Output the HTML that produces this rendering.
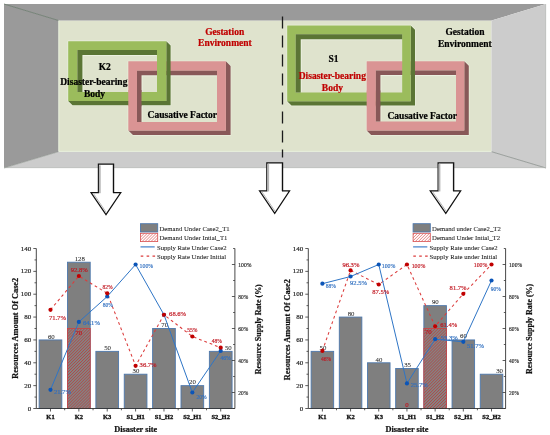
<!DOCTYPE html>
<html><head><meta charset="utf-8"><title>Disaster system figure</title>
<style>html,body{margin:0;padding:0;background:#fff;} svg{display:block;}</style></head>
<body><svg width="550" height="435" viewBox="0 0 550 435">
<defs><clipPath id="cl1"><rect x="127.80000000000001" y="90.0" width="15.099999999999966" height="16.299999999999997"/></clipPath><clipPath id="cl2"><rect x="366.1" y="90.6" width="15.499999999999943" height="15.900000000000006"/></clipPath><pattern id="hatch" patternUnits="userSpaceOnUse" width="2.1" height="2.1" patternTransform="rotate(45)"><rect width="2.1" height="2.1" fill="#848484"/><rect width="0.75" height="2.1" fill="#b04848"/></pattern><pattern id="hatchL" patternUnits="userSpaceOnUse" width="2.1" height="2.1" patternTransform="rotate(45)"><rect width="2.1" height="2.1" fill="#ffffff"/><rect width="0.6" height="2.1" fill="#e06a6a"/></pattern></defs>
<rect width="550" height="435" fill="#ffffff"/>
<rect x="58.5" y="20.5" width="433.0" height="131.2" fill="#dfe3cd"/>
<polygon points="4,4 546,4 491.5,20.5 58.5,20.5" fill="#9a9a9a"/>
<polygon points="4,4 58.5,20.5 58.5,151.7 4,168" fill="#9a9a9a"/>
<polygon points="546,4 546,168 491.5,151.7 491.5,20.5" fill="#cccccc"/>
<polygon points="4,168 58.5,151.7 491.5,151.7 546,168" fill="#cccccc"/>
<line x1="4" y1="4" x2="58.5" y2="20.5" stroke="#6e7d70" stroke-width="0.9"/>
<line x1="546" y1="168" x2="491.5" y2="151.7" stroke="#858c88" stroke-width="0.75"/>
<path d="M545.7,4V167.7H4" fill="none" stroke="#b8bcb8" stroke-width="0.6"/>
<line x1="4" y1="168" x2="58.5" y2="151.7" stroke="#8f958f" stroke-width="0.6"/>
<path d="M58.9,20.5V151.29999999999998H491.5" fill="none" stroke="#eaf2dc" stroke-width="0.8"/>
<polygon points="68.2,41.2 166.3,41.2 170.60000000000002,45.5 170.60000000000002,105.3 72.5,105.3 68.2,101.0" fill="none" stroke="#eaf0de" stroke-width="1.3" stroke-linejoin="round"/>
<path d="M82.9,91.7V55.4H156.7" fill="none" stroke="#eef4e4" stroke-width="0.9"/>
<polygon points="128.3,61.3 225.9,61.3 230.6,66.0 230.6,135.1 133.0,135.1 128.3,130.4" fill="none" stroke="#eaf0de" stroke-width="1.3" stroke-linejoin="round"/>
<path d="M142.0,121.7V75.8H216.7" fill="none" stroke="#eef4e4" stroke-width="0.9"/>
<polygon points="287.2,25.5 410.7,25.5 415.0,29.8 415.0,105.5 291.5,105.5 287.2,101.2" fill="none" stroke="#eaf0de" stroke-width="1.3" stroke-linejoin="round"/>
<path d="M301.2,92.3V39.7H401.9" fill="none" stroke="#eef4e4" stroke-width="0.9"/>
<polygon points="366.6,61.3 464.3,61.3 468.8,65.8 468.8,135.1 371.1,135.1 366.6,130.6" fill="none" stroke="#eaf0de" stroke-width="1.3" stroke-linejoin="round"/>
<path d="M380.9,121.10000000000001V75.6H455.7" fill="none" stroke="#eef4e4" stroke-width="0.9"/>
<polygon points="225.9,61.3 230.6,66.0 230.6,135.1 133.0,135.1 128.3,130.4 225.9,130.4" fill="#885858"/><path d="M128.3,61.3H225.9V130.4H128.3Z M137.0,70.8V122.0H217.0V70.8Z" fill="#da9494" fill-rule="evenodd"/><polygon points="137.0,70.8 217.0,70.8 217.0,75.3 141.5,75.3 141.5,122.0 137.0,122.0" fill="#885858"/>
<polygon points="166.3,41.2 170.60000000000002,45.5 170.60000000000002,105.3 72.5,105.3 68.2,101.0 166.3,101.0" fill="#5b7535"/><path d="M68.2,41.2H166.3V101.0H68.2Z M77.4,49.9V92.0H157.0V49.9Z" fill="#9bbc5c" fill-rule="evenodd"/><polygon points="77.4,49.9 157.0,49.9 157.0,54.9 82.4,54.9 82.4,92.0 77.4,92.0" fill="#5b7535"/>
<g clip-path="url(#cl1)"><polygon points="225.9,61.3 230.6,66.0 230.6,135.1 133.0,135.1 128.3,130.4 225.9,130.4" fill="#885858"/><path d="M128.3,61.3H225.9V130.4H128.3Z M137.0,70.8V122.0H217.0V70.8Z" fill="#da9494" fill-rule="evenodd"/><polygon points="137.0,70.8 217.0,70.8 217.0,75.3 141.5,75.3 141.5,122.0 137.0,122.0" fill="#885858"/></g>
<polygon points="464.3,61.3 468.8,65.8 468.8,135.1 371.1,135.1 366.6,130.6 464.3,130.6" fill="#885858"/><path d="M366.6,61.3H464.3V130.6H366.6Z M375.9,70.6V121.4H456.0V70.6Z" fill="#da9494" fill-rule="evenodd"/><polygon points="375.9,70.6 456.0,70.6 456.0,75.1 380.4,75.1 380.4,121.4 375.9,121.4" fill="#885858"/>
<polygon points="410.7,25.5 415.0,29.8 415.0,105.5 291.5,105.5 287.2,101.2 410.7,101.2" fill="#5b7535"/><path d="M287.2,25.5H410.7V101.2H287.2Z M295.7,34.2V92.6H402.2V34.2Z" fill="#9bbc5c" fill-rule="evenodd"/><polygon points="295.7,34.2 402.2,34.2 402.2,39.2 300.7,39.2 300.7,92.6 295.7,92.6" fill="#5b7535"/>
<g clip-path="url(#cl2)"><polygon points="464.3,61.3 468.8,65.8 468.8,135.1 371.1,135.1 366.6,130.6 464.3,130.6" fill="#885858"/><path d="M366.6,61.3H464.3V130.6H366.6Z M375.9,70.6V121.4H456.0V70.6Z" fill="#da9494" fill-rule="evenodd"/><polygon points="375.9,70.6 456.0,70.6 456.0,75.1 380.4,75.1 380.4,121.4 375.9,121.4" fill="#885858"/></g>
<line x1="282.5" y1="16.4" x2="282.5" y2="157.5" stroke="#1a1a1a" stroke-width="1.3" stroke-dasharray="12.2 6.8"/>
<text x="104.7" y="67.1" font-family="'Liberation Serif','Times New Roman',serif" font-weight="bold" font-size="9.5" fill="#000" stroke="#000" stroke-width="0.22" text-anchor="middle" dominant-baseline="central">K2</text>
<text x="93.8" y="82.4" font-family="'Liberation Serif','Times New Roman',serif" font-weight="bold" font-size="9.5" fill="#000" stroke="#000" stroke-width="0.22" text-anchor="middle" dominant-baseline="central">Disaster-bearing</text>
<text x="94.5" y="93.9" font-family="'Liberation Serif','Times New Roman',serif" font-weight="bold" font-size="9.5" fill="#000" stroke="#000" stroke-width="0.22" text-anchor="middle" dominant-baseline="central">Body</text>
<text x="224.7" y="31.6" font-family="'Liberation Serif','Times New Roman',serif" font-weight="bold" font-size="9.5" fill="#c00000" stroke="#c00000" stroke-width="0.22" text-anchor="middle" dominant-baseline="central">Gestation</text>
<text x="224.9" y="43.4" font-family="'Liberation Serif','Times New Roman',serif" font-weight="bold" font-size="9.5" fill="#c00000" stroke="#c00000" stroke-width="0.22" text-anchor="middle" dominant-baseline="central">Environment</text>
<text x="182.3" y="115" font-family="'Liberation Serif','Times New Roman',serif" font-weight="bold" font-size="9.5" fill="#000" stroke="#000" stroke-width="0.22" text-anchor="middle" dominant-baseline="central">Causative Factor</text>
<text x="333.5" y="58.8" font-family="'Liberation Serif','Times New Roman',serif" font-weight="bold" font-size="9.5" fill="#000" stroke="#000" stroke-width="0.22" text-anchor="middle" dominant-baseline="central">S1</text>
<text x="332.3" y="76.3" font-family="'Liberation Serif','Times New Roman',serif" font-weight="bold" font-size="9.5" fill="#c00000" stroke="#c00000" stroke-width="0.22" text-anchor="middle" dominant-baseline="central">Disaster-bearing</text>
<text x="332.4" y="87.6" font-family="'Liberation Serif','Times New Roman',serif" font-weight="bold" font-size="9.5" fill="#c00000" stroke="#c00000" stroke-width="0.22" text-anchor="middle" dominant-baseline="central">Body</text>
<text x="465" y="31.6" font-family="'Liberation Serif','Times New Roman',serif" font-weight="bold" font-size="9.5" fill="#000" stroke="#000" stroke-width="0.22" text-anchor="middle" dominant-baseline="central">Gestation</text>
<text x="464.8" y="44.3" font-family="'Liberation Serif','Times New Roman',serif" font-weight="bold" font-size="9.5" fill="#000" stroke="#000" stroke-width="0.22" text-anchor="middle" dominant-baseline="central">Environment</text>
<text x="422.2" y="116" font-family="'Liberation Serif','Times New Roman',serif" font-weight="bold" font-size="9.5" fill="#000" stroke="#000" stroke-width="0.22" text-anchor="middle" dominant-baseline="central">Causative Factor</text>
<polygon points="98.4,164.1 113.6,164.1 113.6,192.6 120.8,192.6 106.0,214.7 91.0,192.6 98.4,192.6" fill="#ffffff" stroke="#111" stroke-width="1.2" stroke-linejoin="miter"/>
<path d="M99.80000000000001,165.29999999999998V193.2" stroke="#b5b5b5" stroke-width="1.8" fill="none"/>
<path d="M93.6,193.79999999999998L106.2,212.29999999999998" stroke="#9a9a9a" stroke-width="0.7" fill="none"/>
<path d="M113.3,164.6V192.9" stroke="#111" stroke-width="1.0" fill="none"/>
<polygon points="266.8,162.9 282.6,162.9 282.6,190.8 289.6,190.8 274.7,213.4 259.5,190.8 266.8,190.8" fill="#ffffff" stroke="#111" stroke-width="1.2" stroke-linejoin="miter"/>
<path d="M268.2,164.1V191.4" stroke="#b5b5b5" stroke-width="1.8" fill="none"/>
<path d="M262.1,192.0L274.9,211.0" stroke="#9a9a9a" stroke-width="0.7" fill="none"/>
<path d="M282.3,163.4V191.10000000000002" stroke="#111" stroke-width="1.0" fill="none"/>
<polygon points="438.1,162.9 453.7,162.9 453.7,190.8 460.7,190.8 445.8,213.4 430.2,190.8 438.1,190.8" fill="#ffffff" stroke="#111" stroke-width="1.2" stroke-linejoin="miter"/>
<path d="M439.5,164.1V191.4" stroke="#b5b5b5" stroke-width="1.8" fill="none"/>
<path d="M432.8,192.0L446.0,211.0" stroke="#9a9a9a" stroke-width="0.7" fill="none"/>
<path d="M453.4,163.4V191.10000000000002" stroke="#111" stroke-width="1.0" fill="none"/>
<rect x="39.14" y="339.93" width="22.70" height="68.57" fill="#7f7f7f" stroke="#4d78ad" stroke-width="0.9"/>
<rect x="67.51" y="262.21" width="22.70" height="146.29" fill="#7f7f7f" stroke="#4d78ad" stroke-width="0.9"/>
<rect x="95.88" y="351.36" width="22.70" height="57.14" fill="#7f7f7f" stroke="#4d78ad" stroke-width="0.9"/>
<rect x="124.25" y="374.21" width="22.70" height="34.29" fill="#7f7f7f" stroke="#4d78ad" stroke-width="0.9"/>
<rect x="152.62" y="328.50" width="22.70" height="80.00" fill="#7f7f7f" stroke="#4d78ad" stroke-width="0.9"/>
<rect x="180.99" y="385.64" width="22.70" height="22.86" fill="#7f7f7f" stroke="#4d78ad" stroke-width="0.9"/>
<rect x="209.37" y="351.36" width="22.70" height="57.14" fill="#7f7f7f" stroke="#4d78ad" stroke-width="0.9"/>
<rect x="67.51" y="328.50" width="22.70" height="80.00" fill="url(#hatch)" stroke="#d04040" stroke-width="0.8"/>
<path d="M36.3,248.5V408.5H234.9V248.5" fill="none" stroke="#333333" stroke-width="0.9"/>
<path d="M36.3,408.50h-3 M36.3,397.07h-1.8 M36.3,385.64h-3 M36.3,374.21h-1.8 M36.3,362.79h-3 M36.3,351.36h-1.8 M36.3,339.93h-3 M36.3,328.50h-1.8 M36.3,317.07h-3 M36.3,305.64h-1.8 M36.3,294.21h-3 M36.3,282.79h-1.8 M36.3,271.36h-3 M36.3,259.93h-1.8 M36.3,248.50h-3 M234.9,408.50h-1.8 M234.9,392.50h-3 M234.9,376.50h-1.8 M234.9,360.50h-3 M234.9,344.50h-1.8 M234.9,328.50h-3 M234.9,312.50h-1.8 M234.9,296.50h-3 M234.9,280.50h-1.8 M234.9,264.50h-3 M234.9,248.50h-1.8 M50.49,408.5v3 M78.86,408.5v3 M107.23,408.5v3 M135.60,408.5v3 M163.97,408.5v3 M192.34,408.5v3 M220.71,408.5v3 M64.67,408.5v1.8 M93.04,408.5v1.8 M121.41,408.5v1.8 M149.79,408.5v1.8 M178.16,408.5v1.8 M206.53,408.5v1.8" stroke="#333333" stroke-width="0.8" fill="none"/>
<text x="31.299999999999997" y="408.50" font-family="'Liberation Serif','Times New Roman',serif" font-size="7.0" text-anchor="end" dominant-baseline="central" fill="#222" stroke="#222" stroke-width="0.18">0</text>
<text x="31.299999999999997" y="385.64" font-family="'Liberation Serif','Times New Roman',serif" font-size="7.0" text-anchor="end" dominant-baseline="central" fill="#222" stroke="#222" stroke-width="0.18">20</text>
<text x="31.299999999999997" y="362.79" font-family="'Liberation Serif','Times New Roman',serif" font-size="7.0" text-anchor="end" dominant-baseline="central" fill="#222" stroke="#222" stroke-width="0.18">40</text>
<text x="31.299999999999997" y="339.93" font-family="'Liberation Serif','Times New Roman',serif" font-size="7.0" text-anchor="end" dominant-baseline="central" fill="#222" stroke="#222" stroke-width="0.18">60</text>
<text x="31.299999999999997" y="317.07" font-family="'Liberation Serif','Times New Roman',serif" font-size="7.0" text-anchor="end" dominant-baseline="central" fill="#222" stroke="#222" stroke-width="0.18">80</text>
<text x="31.299999999999997" y="294.21" font-family="'Liberation Serif','Times New Roman',serif" font-size="7.0" text-anchor="end" dominant-baseline="central" fill="#222" stroke="#222" stroke-width="0.18">100</text>
<text x="31.299999999999997" y="271.36" font-family="'Liberation Serif','Times New Roman',serif" font-size="7.0" text-anchor="end" dominant-baseline="central" fill="#222" stroke="#222" stroke-width="0.18">120</text>
<text x="31.299999999999997" y="248.50" font-family="'Liberation Serif','Times New Roman',serif" font-size="7.0" text-anchor="end" dominant-baseline="central" fill="#222" stroke="#222" stroke-width="0.18">140</text>
<text x="238.3" y="392.50" font-family="'Liberation Serif','Times New Roman',serif" font-size="7.0" text-anchor="start" dominant-baseline="central" fill="#222" stroke="#222" stroke-width="0.18" textLength="9.9" lengthAdjust="spacingAndGlyphs">20%</text>
<text x="238.3" y="360.50" font-family="'Liberation Serif','Times New Roman',serif" font-size="7.0" text-anchor="start" dominant-baseline="central" fill="#222" stroke="#222" stroke-width="0.18" textLength="9.9" lengthAdjust="spacingAndGlyphs">40%</text>
<text x="238.3" y="328.50" font-family="'Liberation Serif','Times New Roman',serif" font-size="7.0" text-anchor="start" dominant-baseline="central" fill="#222" stroke="#222" stroke-width="0.18" textLength="9.9" lengthAdjust="spacingAndGlyphs">60%</text>
<text x="238.3" y="296.50" font-family="'Liberation Serif','Times New Roman',serif" font-size="7.0" text-anchor="start" dominant-baseline="central" fill="#222" stroke="#222" stroke-width="0.18" textLength="9.9" lengthAdjust="spacingAndGlyphs">80%</text>
<text x="238.3" y="264.50" font-family="'Liberation Serif','Times New Roman',serif" font-size="7.0" text-anchor="start" dominant-baseline="central" fill="#222" stroke="#222" stroke-width="0.18" textLength="13.2" lengthAdjust="spacingAndGlyphs">100%</text>
<text x="50.49" y="416.9" font-family="'Liberation Serif','Times New Roman',serif" font-weight="bold" font-size="6.5" text-anchor="middle" dominant-baseline="central" fill="#111" stroke="#111" stroke-width="0.3">K1</text>
<text x="78.86" y="416.9" font-family="'Liberation Serif','Times New Roman',serif" font-weight="bold" font-size="6.5" text-anchor="middle" dominant-baseline="central" fill="#111" stroke="#111" stroke-width="0.3">K2</text>
<text x="107.23" y="416.9" font-family="'Liberation Serif','Times New Roman',serif" font-weight="bold" font-size="6.5" text-anchor="middle" dominant-baseline="central" fill="#111" stroke="#111" stroke-width="0.3">K3</text>
<text x="135.60" y="416.9" font-family="'Liberation Serif','Times New Roman',serif" font-weight="bold" font-size="6.5" text-anchor="middle" dominant-baseline="central" fill="#111" stroke="#111" stroke-width="0.3">S1_H1</text>
<text x="163.97" y="416.9" font-family="'Liberation Serif','Times New Roman',serif" font-weight="bold" font-size="6.5" text-anchor="middle" dominant-baseline="central" fill="#111" stroke="#111" stroke-width="0.3">S1_H2</text>
<text x="192.34" y="416.9" font-family="'Liberation Serif','Times New Roman',serif" font-weight="bold" font-size="6.5" text-anchor="middle" dominant-baseline="central" fill="#111" stroke="#111" stroke-width="0.3">S2_H1</text>
<text x="220.71" y="416.9" font-family="'Liberation Serif','Times New Roman',serif" font-weight="bold" font-size="6.5" text-anchor="middle" dominant-baseline="central" fill="#111" stroke="#111" stroke-width="0.3">S2_H2</text>
<text transform="translate(15.3,328.3) rotate(-90)" font-family="'Liberation Serif','Times New Roman',serif" font-weight="bold" font-size="8.3" text-anchor="middle" dominant-baseline="central" fill="#111" stroke="#111" stroke-width="0.22">Resources Amount Of Case2</text>
<text transform="translate(258.8,329.3) rotate(-90)" font-family="'Liberation Serif','Times New Roman',serif" font-weight="bold" font-size="7.95" text-anchor="middle" dominant-baseline="central" fill="#111" stroke="#111" stroke-width="0.22">Resource Supply Rate (%)</text>
<text x="135.7" y="429.5" font-family="'Liberation Serif','Times New Roman',serif" font-weight="bold" font-size="8.3" text-anchor="middle" dominant-baseline="central" fill="#111" stroke="#111" stroke-width="0.22">Disaster site</text>
<text x="51.3" y="336.70" font-family="'Liberation Serif','Times New Roman',serif" font-size="7.0" text-anchor="middle" dominant-baseline="central" fill="#222" stroke="#222" stroke-width="0.04" textLength="6.8" lengthAdjust="spacingAndGlyphs">60</text>
<text x="79.75" y="258.70" font-family="'Liberation Serif','Times New Roman',serif" font-size="7.0" text-anchor="middle" dominant-baseline="central" fill="#222" stroke="#222" stroke-width="0.04" textLength="10.2" lengthAdjust="spacingAndGlyphs">128</text>
<text x="107.6" y="347.80" font-family="'Liberation Serif','Times New Roman',serif" font-size="7.0" text-anchor="middle" dominant-baseline="central" fill="#222" stroke="#222" stroke-width="0.04" textLength="6.8" lengthAdjust="spacingAndGlyphs">50</text>
<text x="135.9" y="371.20" font-family="'Liberation Serif','Times New Roman',serif" font-size="7.0" text-anchor="middle" dominant-baseline="central" fill="#222" stroke="#222" stroke-width="0.04" textLength="6.8" lengthAdjust="spacingAndGlyphs">30</text>
<text x="164.7" y="325.20" font-family="'Liberation Serif','Times New Roman',serif" font-size="7.0" text-anchor="middle" dominant-baseline="central" fill="#222" stroke="#222" stroke-width="0.04" textLength="6.8" lengthAdjust="spacingAndGlyphs">70</text>
<text x="192.4" y="382.40" font-family="'Liberation Serif','Times New Roman',serif" font-size="7.0" text-anchor="middle" dominant-baseline="central" fill="#222" stroke="#222" stroke-width="0.04" textLength="6.8" lengthAdjust="spacingAndGlyphs">20</text>
<text x="228.3" y="348.00" font-family="'Liberation Serif','Times New Roman',serif" font-size="7.0" text-anchor="middle" dominant-baseline="central" fill="#222" stroke="#222" stroke-width="0.04" textLength="6.8" lengthAdjust="spacingAndGlyphs">50</text>
<text x="78.7" y="333.40" font-family="'Liberation Serif','Times New Roman',serif" font-size="7.0" text-anchor="middle" dominant-baseline="central" fill="#c0141e" stroke="#c0141e" stroke-width="0.18" textLength="6.8" lengthAdjust="spacingAndGlyphs">70</text>
<polyline points="50.49,309.78 78.86,276.02 107.23,293.30 135.60,365.78 163.97,314.74 192.34,336.50 220.71,347.70" fill="none" stroke="#dc3c3c" stroke-width="1.05" stroke-dasharray="2.8 2.9"/>
<polyline points="50.49,389.78 78.86,321.94 107.23,296.50 135.60,264.50 163.97,314.74 192.34,392.50 220.71,350.90" fill="none" stroke="#2e75c6" stroke-width="1.0"/>
<circle cx="50.49" cy="389.78" r="2.1" fill="#0b55b8"/>
<circle cx="78.86" cy="321.94" r="2.1" fill="#0b55b8"/>
<circle cx="107.23" cy="296.50" r="2.1" fill="#0b55b8"/>
<circle cx="135.60" cy="264.50" r="2.1" fill="#0b55b8"/>
<circle cx="163.97" cy="314.74" r="2.1" fill="#0b55b8"/>
<circle cx="192.34" cy="392.50" r="2.1" fill="#0b55b8"/>
<circle cx="220.71" cy="350.90" r="2.1" fill="#0b55b8"/>
<circle cx="50.49" cy="309.78" r="2.1" fill="#c00000"/>
<circle cx="78.86" cy="276.02" r="2.1" fill="#c00000"/>
<circle cx="107.23" cy="293.30" r="2.1" fill="#c00000"/>
<circle cx="135.60" cy="365.78" r="2.1" fill="#c00000"/>
<circle cx="163.97" cy="314.74" r="2.1" fill="#c00000"/>
<circle cx="192.34" cy="336.50" r="2.1" fill="#c00000"/>
<circle cx="220.71" cy="347.70" r="2.1" fill="#c00000"/>
<text x="53.9" y="391.50" font-family="'Liberation Serif','Times New Roman',serif" font-size="7.0" text-anchor="start" dominant-baseline="central" fill="#2f6fc0" stroke="#2f6fc0" stroke-width="0.18" textLength="17.0" lengthAdjust="spacingAndGlyphs">21.7%</text>
<text x="82.9" y="323.40" font-family="'Liberation Serif','Times New Roman',serif" font-size="7.0" text-anchor="start" dominant-baseline="central" fill="#2f6fc0" stroke="#2f6fc0" stroke-width="0.18" textLength="17.0" lengthAdjust="spacingAndGlyphs">64.1%</text>
<text x="107.9" y="305.00" font-family="'Liberation Serif','Times New Roman',serif" font-size="7.0" text-anchor="middle" dominant-baseline="central" fill="#2f6fc0" stroke="#2f6fc0" stroke-width="0.18" textLength="10.2" lengthAdjust="spacingAndGlyphs">80%</text>
<text x="139.6" y="266.30" font-family="'Liberation Serif','Times New Roman',serif" font-size="7.0" text-anchor="start" dominant-baseline="central" fill="#2f6fc0" stroke="#2f6fc0" stroke-width="0.18" textLength="13.6" lengthAdjust="spacingAndGlyphs">100%</text>
<text x="196.4" y="397.00" font-family="'Liberation Serif','Times New Roman',serif" font-size="7.0" text-anchor="start" dominant-baseline="central" fill="#2f6fc0" stroke="#2f6fc0" stroke-width="0.18" textLength="10.2" lengthAdjust="spacingAndGlyphs">20%</text>
<text x="220.4" y="357.90" font-family="'Liberation Serif','Times New Roman',serif" font-size="7.0" text-anchor="start" dominant-baseline="central" fill="#2f6fc0" stroke="#2f6fc0" stroke-width="0.18" textLength="10.2" lengthAdjust="spacingAndGlyphs">46%</text>
<text x="48.9" y="317.70" font-family="'Liberation Serif','Times New Roman',serif" font-size="7.0" text-anchor="start" dominant-baseline="central" fill="#c0141e" stroke="#c0141e" stroke-width="0.18" textLength="17.0" lengthAdjust="spacingAndGlyphs">71.7%</text>
<text x="79.2" y="270.10" font-family="'Liberation Serif','Times New Roman',serif" font-size="7.0" text-anchor="middle" dominant-baseline="central" fill="#c0141e" stroke="#c0141e" stroke-width="0.18" textLength="17.0" lengthAdjust="spacingAndGlyphs">92.8%</text>
<text x="107.6" y="286.70" font-family="'Liberation Serif','Times New Roman',serif" font-size="7.0" text-anchor="middle" dominant-baseline="central" fill="#c0141e" stroke="#c0141e" stroke-width="0.18" textLength="10.2" lengthAdjust="spacingAndGlyphs">82%</text>
<text x="139.6" y="365.30" font-family="'Liberation Serif','Times New Roman',serif" font-size="7.0" text-anchor="start" dominant-baseline="central" fill="#c0141e" stroke="#c0141e" stroke-width="0.18" textLength="17.0" lengthAdjust="spacingAndGlyphs">36.7%</text>
<text x="169.1" y="313.60" font-family="'Liberation Serif','Times New Roman',serif" font-size="7.0" text-anchor="start" dominant-baseline="central" fill="#c0141e" stroke="#c0141e" stroke-width="0.18" textLength="17.0" lengthAdjust="spacingAndGlyphs">68.6%</text>
<text x="192.4" y="329.90" font-family="'Liberation Serif','Times New Roman',serif" font-size="7.0" text-anchor="middle" dominant-baseline="central" fill="#c0141e" stroke="#c0141e" stroke-width="0.18" textLength="10.2" lengthAdjust="spacingAndGlyphs">55%</text>
<text x="216.8" y="341.00" font-family="'Liberation Serif','Times New Roman',serif" font-size="7.0" text-anchor="middle" dominant-baseline="central" fill="#c0141e" stroke="#c0141e" stroke-width="0.18" textLength="10.2" lengthAdjust="spacingAndGlyphs">48%</text>
<rect x="140.5" y="223.7" width="17.2" height="8.3" fill="#7f7f7f" stroke="#4d78ad" stroke-width="0.9"/>
<rect x="140.5" y="233.3" width="17.2" height="8.3" fill="url(#hatchL)" stroke="#d85050" stroke-width="0.8"/>
<line x1="140.5" y1="246.9" x2="154.7" y2="246.9" stroke="#2e75c6" stroke-width="1.1"/>
<line x1="140.7" y1="256.1" x2="155.1" y2="256.1" stroke="#dc3c3c" stroke-width="1.1" stroke-dasharray="2.6 3.3"/>
<text x="159.5" y="228.5" font-family="'Liberation Serif','Times New Roman',serif" font-size="6.72" dominant-baseline="central" fill="#1e1e1e" stroke="#1e1e1e" stroke-width="0.07">Demand Under Case2_T1</text>
<text x="159.5" y="237.8" font-family="'Liberation Serif','Times New Roman',serif" font-size="6.72" dominant-baseline="central" fill="#1e1e1e" stroke="#1e1e1e" stroke-width="0.07">Demand Under Intial_T1</text>
<text x="156.9" y="247.0" font-family="'Liberation Serif','Times New Roman',serif" font-size="6.72" dominant-baseline="central" fill="#1e1e1e" stroke="#1e1e1e" stroke-width="0.07">Supply Rate Under Case2</text>
<text x="156.9" y="256.2" font-family="'Liberation Serif','Times New Roman',serif" font-size="6.72" dominant-baseline="central" fill="#1e1e1e" stroke="#1e1e1e" stroke-width="0.07">Supply Rate Under Initial</text>
<rect x="311.12" y="351.36" width="22.55" height="57.14" fill="#7f7f7f" stroke="#4d78ad" stroke-width="0.9"/>
<rect x="339.30" y="317.07" width="22.55" height="91.43" fill="#7f7f7f" stroke="#4d78ad" stroke-width="0.9"/>
<rect x="367.49" y="362.79" width="22.55" height="45.71" fill="#7f7f7f" stroke="#4d78ad" stroke-width="0.9"/>
<rect x="395.68" y="368.50" width="22.55" height="40.00" fill="#7f7f7f" stroke="#4d78ad" stroke-width="0.9"/>
<rect x="423.86" y="305.64" width="22.55" height="102.86" fill="#7f7f7f" stroke="#4d78ad" stroke-width="0.9"/>
<rect x="452.05" y="339.93" width="22.55" height="68.57" fill="#7f7f7f" stroke="#4d78ad" stroke-width="0.9"/>
<rect x="480.23" y="374.21" width="22.55" height="34.29" fill="#7f7f7f" stroke="#4d78ad" stroke-width="0.9"/>
<rect x="423.86" y="328.50" width="22.55" height="80.00" fill="url(#hatch)" stroke="#d04040" stroke-width="0.8"/>
<path d="M308.3,248.5V408.5H505.6V248.5" fill="none" stroke="#333333" stroke-width="0.9"/>
<path d="M308.3,408.50h-3 M308.3,397.07h-1.8 M308.3,385.64h-3 M308.3,374.21h-1.8 M308.3,362.79h-3 M308.3,351.36h-1.8 M308.3,339.93h-3 M308.3,328.50h-1.8 M308.3,317.07h-3 M308.3,305.64h-1.8 M308.3,294.21h-3 M308.3,282.79h-1.8 M308.3,271.36h-3 M308.3,259.93h-1.8 M308.3,248.50h-3 M505.6,408.50h-1.8 M505.6,392.50h-3 M505.6,376.50h-1.8 M505.6,360.50h-3 M505.6,344.50h-1.8 M505.6,328.50h-3 M505.6,312.50h-1.8 M505.6,296.50h-3 M505.6,280.50h-1.8 M505.6,264.50h-3 M505.6,248.50h-1.8 M322.39,408.5v3 M350.58,408.5v3 M378.76,408.5v3 M406.95,408.5v3 M435.14,408.5v3 M463.32,408.5v3 M491.51,408.5v3 M336.49,408.5v1.8 M364.67,408.5v1.8 M392.86,408.5v1.8 M421.04,408.5v1.8 M449.23,408.5v1.8 M477.41,408.5v1.8" stroke="#333333" stroke-width="0.8" fill="none"/>
<text x="303.3" y="408.50" font-family="'Liberation Serif','Times New Roman',serif" font-size="7.0" text-anchor="end" dominant-baseline="central" fill="#222" stroke="#222" stroke-width="0.18">0</text>
<text x="303.3" y="385.64" font-family="'Liberation Serif','Times New Roman',serif" font-size="7.0" text-anchor="end" dominant-baseline="central" fill="#222" stroke="#222" stroke-width="0.18">20</text>
<text x="303.3" y="362.79" font-family="'Liberation Serif','Times New Roman',serif" font-size="7.0" text-anchor="end" dominant-baseline="central" fill="#222" stroke="#222" stroke-width="0.18">40</text>
<text x="303.3" y="339.93" font-family="'Liberation Serif','Times New Roman',serif" font-size="7.0" text-anchor="end" dominant-baseline="central" fill="#222" stroke="#222" stroke-width="0.18">60</text>
<text x="303.3" y="317.07" font-family="'Liberation Serif','Times New Roman',serif" font-size="7.0" text-anchor="end" dominant-baseline="central" fill="#222" stroke="#222" stroke-width="0.18">80</text>
<text x="303.3" y="294.21" font-family="'Liberation Serif','Times New Roman',serif" font-size="7.0" text-anchor="end" dominant-baseline="central" fill="#222" stroke="#222" stroke-width="0.18">100</text>
<text x="303.3" y="271.36" font-family="'Liberation Serif','Times New Roman',serif" font-size="7.0" text-anchor="end" dominant-baseline="central" fill="#222" stroke="#222" stroke-width="0.18">120</text>
<text x="303.3" y="248.50" font-family="'Liberation Serif','Times New Roman',serif" font-size="7.0" text-anchor="end" dominant-baseline="central" fill="#222" stroke="#222" stroke-width="0.18">140</text>
<text x="509.0" y="392.50" font-family="'Liberation Serif','Times New Roman',serif" font-size="7.0" text-anchor="start" dominant-baseline="central" fill="#222" stroke="#222" stroke-width="0.18" textLength="9.9" lengthAdjust="spacingAndGlyphs">20%</text>
<text x="509.0" y="360.50" font-family="'Liberation Serif','Times New Roman',serif" font-size="7.0" text-anchor="start" dominant-baseline="central" fill="#222" stroke="#222" stroke-width="0.18" textLength="9.9" lengthAdjust="spacingAndGlyphs">40%</text>
<text x="509.0" y="328.50" font-family="'Liberation Serif','Times New Roman',serif" font-size="7.0" text-anchor="start" dominant-baseline="central" fill="#222" stroke="#222" stroke-width="0.18" textLength="9.9" lengthAdjust="spacingAndGlyphs">60%</text>
<text x="509.0" y="296.50" font-family="'Liberation Serif','Times New Roman',serif" font-size="7.0" text-anchor="start" dominant-baseline="central" fill="#222" stroke="#222" stroke-width="0.18" textLength="9.9" lengthAdjust="spacingAndGlyphs">80%</text>
<text x="509.0" y="264.50" font-family="'Liberation Serif','Times New Roman',serif" font-size="7.0" text-anchor="start" dominant-baseline="central" fill="#222" stroke="#222" stroke-width="0.18" textLength="13.2" lengthAdjust="spacingAndGlyphs">100%</text>
<text x="322.39" y="416.9" font-family="'Liberation Serif','Times New Roman',serif" font-weight="bold" font-size="6.5" text-anchor="middle" dominant-baseline="central" fill="#111" stroke="#111" stroke-width="0.3">K1</text>
<text x="350.58" y="416.9" font-family="'Liberation Serif','Times New Roman',serif" font-weight="bold" font-size="6.5" text-anchor="middle" dominant-baseline="central" fill="#111" stroke="#111" stroke-width="0.3">K2</text>
<text x="378.76" y="416.9" font-family="'Liberation Serif','Times New Roman',serif" font-weight="bold" font-size="6.5" text-anchor="middle" dominant-baseline="central" fill="#111" stroke="#111" stroke-width="0.3">K3</text>
<text x="406.95" y="416.9" font-family="'Liberation Serif','Times New Roman',serif" font-weight="bold" font-size="6.5" text-anchor="middle" dominant-baseline="central" fill="#111" stroke="#111" stroke-width="0.3">S1_H1</text>
<text x="435.14" y="416.9" font-family="'Liberation Serif','Times New Roman',serif" font-weight="bold" font-size="6.5" text-anchor="middle" dominant-baseline="central" fill="#111" stroke="#111" stroke-width="0.3">S1_H2</text>
<text x="463.32" y="416.9" font-family="'Liberation Serif','Times New Roman',serif" font-weight="bold" font-size="6.5" text-anchor="middle" dominant-baseline="central" fill="#111" stroke="#111" stroke-width="0.3">S2_H1</text>
<text x="491.51" y="416.9" font-family="'Liberation Serif','Times New Roman',serif" font-weight="bold" font-size="6.5" text-anchor="middle" dominant-baseline="central" fill="#111" stroke="#111" stroke-width="0.3">S2_H2</text>
<text transform="translate(287.2,329.7) rotate(-90)" font-family="'Liberation Serif','Times New Roman',serif" font-weight="bold" font-size="8.3" text-anchor="middle" dominant-baseline="central" fill="#111" stroke="#111" stroke-width="0.22">Resources Amount Of Case2</text>
<text transform="translate(529.4,328.9) rotate(-90)" font-family="'Liberation Serif','Times New Roman',serif" font-weight="bold" font-size="7.95" text-anchor="middle" dominant-baseline="central" fill="#111" stroke="#111" stroke-width="0.22">Resource Supply Rate (%)</text>
<text x="407" y="429.5" font-family="'Liberation Serif','Times New Roman',serif" font-weight="bold" font-size="8.3" text-anchor="middle" dominant-baseline="central" fill="#111" stroke="#111" stroke-width="0.22">Disaster site</text>
<text x="323" y="347.90" font-family="'Liberation Serif','Times New Roman',serif" font-size="7.0" text-anchor="middle" dominant-baseline="central" fill="#222" stroke="#222" stroke-width="0.04" textLength="6.8" lengthAdjust="spacingAndGlyphs">50</text>
<text x="351.1" y="314.20" font-family="'Liberation Serif','Times New Roman',serif" font-size="7.0" text-anchor="middle" dominant-baseline="central" fill="#222" stroke="#222" stroke-width="0.04" textLength="6.8" lengthAdjust="spacingAndGlyphs">80</text>
<text x="379" y="359.80" font-family="'Liberation Serif','Times New Roman',serif" font-size="7.0" text-anchor="middle" dominant-baseline="central" fill="#222" stroke="#222" stroke-width="0.04" textLength="6.8" lengthAdjust="spacingAndGlyphs">40</text>
<text x="407.6" y="365.00" font-family="'Liberation Serif','Times New Roman',serif" font-size="7.0" text-anchor="middle" dominant-baseline="central" fill="#222" stroke="#222" stroke-width="0.04" textLength="6.8" lengthAdjust="spacingAndGlyphs">35</text>
<text x="435.3" y="301.60" font-family="'Liberation Serif','Times New Roman',serif" font-size="7.0" text-anchor="middle" dominant-baseline="central" fill="#222" stroke="#222" stroke-width="0.04" textLength="6.8" lengthAdjust="spacingAndGlyphs">90</text>
<text x="463.5" y="335.90" font-family="'Liberation Serif','Times New Roman',serif" font-size="7.0" text-anchor="middle" dominant-baseline="central" fill="#222" stroke="#222" stroke-width="0.04" textLength="6.8" lengthAdjust="spacingAndGlyphs">60</text>
<text x="499.6" y="370.90" font-family="'Liberation Serif','Times New Roman',serif" font-size="7.0" text-anchor="middle" dominant-baseline="central" fill="#222" stroke="#222" stroke-width="0.04" textLength="6.8" lengthAdjust="spacingAndGlyphs">30</text>
<text x="428.3" y="332.30" font-family="'Liberation Serif','Times New Roman',serif" font-size="7.0" text-anchor="middle" dominant-baseline="central" fill="#c0141e" stroke="#c0141e" stroke-width="0.18" textLength="6.8" lengthAdjust="spacingAndGlyphs">70</text>
<text x="407" y="404.70" font-family="'Liberation Serif','Times New Roman',serif" font-size="7.0" text-anchor="middle" dominant-baseline="central" fill="#c0141e" stroke="#c0141e" stroke-width="0.18" textLength="3.4" lengthAdjust="spacingAndGlyphs">0</text>
<polyline points="322.39,350.90 350.58,270.42 378.76,284.50 406.95,264.50 435.14,326.26 463.32,293.78 491.51,264.50" fill="none" stroke="#dc3c3c" stroke-width="1.05" stroke-dasharray="2.8 2.9"/>
<polyline points="322.39,283.70 350.58,276.50 378.76,264.50 406.95,383.38 435.14,339.22 463.32,341.78 491.51,280.50" fill="none" stroke="#2e75c6" stroke-width="1.0"/>
<circle cx="322.39" cy="283.70" r="2.1" fill="#0b55b8"/>
<circle cx="350.58" cy="276.50" r="2.1" fill="#0b55b8"/>
<circle cx="378.76" cy="264.50" r="2.1" fill="#0b55b8"/>
<circle cx="406.95" cy="383.38" r="2.1" fill="#0b55b8"/>
<circle cx="435.14" cy="339.22" r="2.1" fill="#0b55b8"/>
<circle cx="463.32" cy="341.78" r="2.1" fill="#0b55b8"/>
<circle cx="491.51" cy="280.50" r="2.1" fill="#0b55b8"/>
<circle cx="322.39" cy="350.90" r="2.1" fill="#c00000"/>
<circle cx="350.58" cy="270.42" r="2.1" fill="#c00000"/>
<circle cx="378.76" cy="284.50" r="2.1" fill="#c00000"/>
<circle cx="406.95" cy="264.50" r="2.1" fill="#c00000"/>
<circle cx="435.14" cy="326.26" r="2.1" fill="#c00000"/>
<circle cx="463.32" cy="293.78" r="2.1" fill="#c00000"/>
<circle cx="491.51" cy="264.50" r="2.1" fill="#c00000"/>
<text x="325.7" y="285.90" font-family="'Liberation Serif','Times New Roman',serif" font-size="7.0" text-anchor="start" dominant-baseline="central" fill="#2f6fc0" stroke="#2f6fc0" stroke-width="0.18" textLength="10.2" lengthAdjust="spacingAndGlyphs">88%</text>
<text x="350" y="283.40" font-family="'Liberation Serif','Times New Roman',serif" font-size="7.0" text-anchor="start" dominant-baseline="central" fill="#2f6fc0" stroke="#2f6fc0" stroke-width="0.18" textLength="17.0" lengthAdjust="spacingAndGlyphs">92.5%</text>
<text x="381.8" y="266.30" font-family="'Liberation Serif','Times New Roman',serif" font-size="7.0" text-anchor="start" dominant-baseline="central" fill="#2f6fc0" stroke="#2f6fc0" stroke-width="0.18" textLength="13.6" lengthAdjust="spacingAndGlyphs">100%</text>
<text x="410.7" y="385.10" font-family="'Liberation Serif','Times New Roman',serif" font-size="7.0" text-anchor="start" dominant-baseline="central" fill="#2f6fc0" stroke="#2f6fc0" stroke-width="0.18" textLength="17.0" lengthAdjust="spacingAndGlyphs">25.7%</text>
<text x="440.7" y="338.10" font-family="'Liberation Serif','Times New Roman',serif" font-size="7.0" text-anchor="start" dominant-baseline="central" fill="#2f6fc0" stroke="#2f6fc0" stroke-width="0.18" textLength="17.0" lengthAdjust="spacingAndGlyphs">53.3%</text>
<text x="467" y="346.40" font-family="'Liberation Serif','Times New Roman',serif" font-size="7.0" text-anchor="start" dominant-baseline="central" fill="#2f6fc0" stroke="#2f6fc0" stroke-width="0.18" textLength="17.0" lengthAdjust="spacingAndGlyphs">51.7%</text>
<text x="490.8" y="288.50" font-family="'Liberation Serif','Times New Roman',serif" font-size="7.0" text-anchor="start" dominant-baseline="central" fill="#2f6fc0" stroke="#2f6fc0" stroke-width="0.18" textLength="10.2" lengthAdjust="spacingAndGlyphs">90%</text>
<text x="321" y="358.90" font-family="'Liberation Serif','Times New Roman',serif" font-size="7.0" text-anchor="start" dominant-baseline="central" fill="#c0141e" stroke="#c0141e" stroke-width="0.18" textLength="10.2" lengthAdjust="spacingAndGlyphs">46%</text>
<text x="350.9" y="265.20" font-family="'Liberation Serif','Times New Roman',serif" font-size="7.0" text-anchor="middle" dominant-baseline="central" fill="#c0141e" stroke="#c0141e" stroke-width="0.18" textLength="17.0" lengthAdjust="spacingAndGlyphs">96.3%</text>
<text x="380.7" y="292.00" font-family="'Liberation Serif','Times New Roman',serif" font-size="7.0" text-anchor="middle" dominant-baseline="central" fill="#c0141e" stroke="#c0141e" stroke-width="0.18" textLength="17.0" lengthAdjust="spacingAndGlyphs">87.5%</text>
<text x="411.7" y="265.90" font-family="'Liberation Serif','Times New Roman',serif" font-size="7.0" text-anchor="start" dominant-baseline="central" fill="#c0141e" stroke="#c0141e" stroke-width="0.18" textLength="13.6" lengthAdjust="spacingAndGlyphs">100%</text>
<text x="440.3" y="325.10" font-family="'Liberation Serif','Times New Roman',serif" font-size="7.0" text-anchor="start" dominant-baseline="central" fill="#c0141e" stroke="#c0141e" stroke-width="0.18" textLength="17.0" lengthAdjust="spacingAndGlyphs">61.4%</text>
<text x="449.6" y="287.90" font-family="'Liberation Serif','Times New Roman',serif" font-size="7.0" text-anchor="start" dominant-baseline="central" fill="#c0141e" stroke="#c0141e" stroke-width="0.18" textLength="17.0" lengthAdjust="spacingAndGlyphs">81.7%</text>
<text x="487.4" y="265.40" font-family="'Liberation Serif','Times New Roman',serif" font-size="7.0" text-anchor="end" dominant-baseline="central" fill="#c0141e" stroke="#c0141e" stroke-width="0.18" textLength="13.6" lengthAdjust="spacingAndGlyphs">100%</text>
<rect x="413.1" y="223.7" width="17.2" height="8.3" fill="#7f7f7f" stroke="#4d78ad" stroke-width="0.9"/>
<rect x="413.1" y="233.3" width="17.2" height="8.3" fill="url(#hatchL)" stroke="#d85050" stroke-width="0.8"/>
<line x1="413.1" y1="246.9" x2="427.3" y2="246.9" stroke="#2e75c6" stroke-width="1.1"/>
<line x1="413.3" y1="256.1" x2="427.70000000000005" y2="256.1" stroke="#dc3c3c" stroke-width="1.1" stroke-dasharray="2.6 3.3"/>
<text x="432.1" y="228.5" font-family="'Liberation Serif','Times New Roman',serif" font-size="6.72" dominant-baseline="central" fill="#1e1e1e" stroke="#1e1e1e" stroke-width="0.07">Demand under Case2_T2</text>
<text x="432.1" y="237.8" font-family="'Liberation Serif','Times New Roman',serif" font-size="6.72" dominant-baseline="central" fill="#1e1e1e" stroke="#1e1e1e" stroke-width="0.07">Demand Under Intial_T2</text>
<text x="429.5" y="247.0" font-family="'Liberation Serif','Times New Roman',serif" font-size="6.72" dominant-baseline="central" fill="#1e1e1e" stroke="#1e1e1e" stroke-width="0.07">Supply Rate under Case2</text>
<text x="429.5" y="256.2" font-family="'Liberation Serif','Times New Roman',serif" font-size="6.72" dominant-baseline="central" fill="#1e1e1e" stroke="#1e1e1e" stroke-width="0.07">Supply Rate under Initial</text>
</svg></body></html>
